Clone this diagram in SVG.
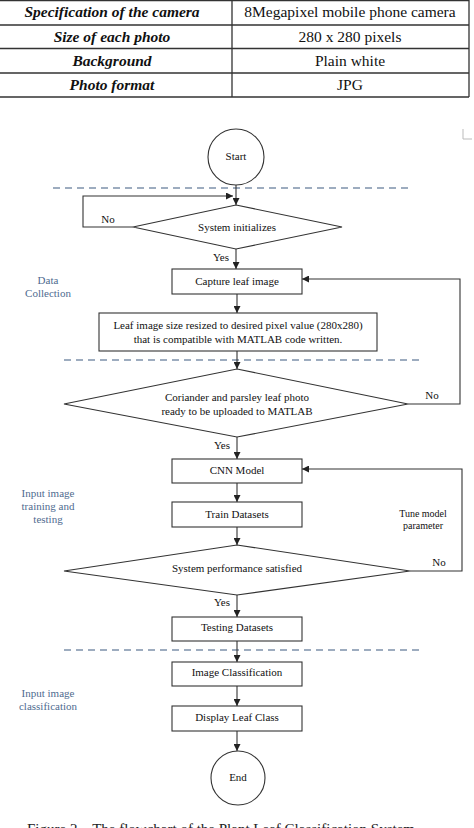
<svg xmlns="http://www.w3.org/2000/svg" width="474" height="828" viewBox="0 0 474 828">
<style>
.tl{stroke:#333;stroke-width:1.3;fill:none}
.th{font-family:"Liberation Serif",serif;font-size:15.5px;font-weight:bold;font-style:italic;fill:#111;text-anchor:middle}
.tv{font-family:"Liberation Serif",serif;font-size:15.5px;fill:#111;text-anchor:middle}
.box{fill:#fff;stroke:#333;stroke-width:1.1}
.t{font-family:"Liberation Serif",serif;font-size:11px;fill:#111;text-anchor:middle}
.ts{font-family:"Liberation Serif",serif;font-size:10px;fill:#111;text-anchor:middle}
.side{font-family:"Liberation Serif",serif;font-size:11px;fill:#4f6b8f;text-anchor:middle}
.dash{stroke:#3d5a80;stroke-width:1.2;stroke-dasharray:7 5;fill:none}
.c{stroke:#333;stroke-width:1.1;fill:none}
.ca{stroke:#333;stroke-width:1.1;fill:none;marker-end:url(#ah)}
.cap{font-family:"Liberation Serif",serif;font-size:15px;fill:#222}
</style>
<defs>
<marker id="ah" viewBox="0 0 10 10" refX="10" refY="5" markerWidth="7" markerHeight="7" orient="auto" markerUnits="userSpaceOnUse">
<path d="M0,0 L10,5 L0,10 z" fill="#222"/>
</marker>
</defs>
<rect width="474" height="828" fill="#fff"/>
<g id="table">
<path class="tl" d="M0,0.5 H469 M0,25 H469 M0,48.5 H469 M0,73 H469 M0,97 H469 M232,0 V97 M469,0 V97"/>
<text class="th" x="112" y="17">Specification of the camera</text>
<text class="tv" x="350" y="17">8Megapixel mobile phone camera</text>
<text class="th" x="112" y="42">Size of each photo</text>
<text class="tv" x="350" y="42">280 x 280 pixels</text>
<text class="th" x="112" y="66">Background</text>
<text class="tv" x="350" y="66">Plain white</text>
<text class="th" x="112" y="90">Photo format</text>
<text class="tv" x="350" y="90">JPG</text>
</g>
<path d="M463,129 V139 H472" stroke="#bbb" stroke-width="1" fill="none"/>
<g id="dividers">
<line class="dash" x1="53" y1="188" x2="409" y2="188"/>
<line class="dash" x1="64" y1="360" x2="420" y2="360"/>
<line class="dash" x1="64" y1="650" x2="420" y2="650"/>
</g>
<g id="labels">
<text class="side" x="48" y="284">Data</text>
<text class="side" x="48" y="297">Collection</text>
<text class="side" x="48" y="497">Input image</text>
<text class="side" x="48" y="510">training and</text>
<text class="side" x="48" y="523">testing</text>
<text class="side" x="48" y="697">Input image</text>
<text class="side" x="48" y="710">classification</text>
</g>
<g id="connectors">
<line class="ca" x1="236" y1="185" x2="236" y2="205"/>
<polyline class="ca" points="133,227 83,227 83,196 233,196"/>
<line class="ca" x1="236" y1="249" x2="236" y2="269"/>
<line class="ca" x1="237" y1="294" x2="237" y2="313"/>
<line class="ca" x1="237" y1="351" x2="237" y2="369"/>
<polyline class="ca" points="408,404 460,404 460,279 302,279"/>
<line class="ca" x1="237" y1="437" x2="237" y2="459"/>
<line class="ca" x1="237" y1="483" x2="237" y2="502"/>
<polyline class="ca" points="410,571 462,571 462,469 302,469"/>
<line class="ca" x1="237" y1="527" x2="237" y2="545"/>
<line class="ca" x1="237" y1="595" x2="237" y2="617"/>
<line class="ca" x1="237" y1="641" x2="237" y2="662"/>
<line class="ca" x1="237" y1="686" x2="237" y2="706"/>
<line class="ca" x1="237" y1="731" x2="237" y2="751"/>
<text class="t" x="108" y="223">No</text>
<text class="t" x="221" y="261">Yes</text>
<text class="t" x="432" y="399">No</text>
<text class="t" x="222" y="449">Yes</text>
<text class="ts" x="423" y="517">Tune model</text>
<text class="ts" x="423" y="529">parameter</text>
<text class="t" x="439" y="566">No</text>
<text class="t" x="222" y="606">Yes</text>
</g>
<g id="start">
<circle class="box" cx="236" cy="157" r="28"/>
<text class="t" x="236" y="160">Start</text>
</g>
<g id="sysinit">
<polygon class="box" points="236,205 342,227 236,249 133,227"/>
<text class="t" x="237" y="231">System initializes</text>
</g>
<g id="capture">
<rect class="box" x="172" y="269" width="130" height="25"/>
<text class="t" x="237" y="285">Capture leaf image</text>
</g>
<g id="resize">
<rect class="box" x="99" y="313" width="278" height="38"/>
<text class="t" x="238" y="329">Leaf image size resized to desired pixel value (280x280)</text>
<text class="t" x="238" y="343">that is compatible with MATLAB code written.</text>
</g>
<g id="ready">
<polygon class="box" points="237,369 408,404 237,437 64,404"/>
<text class="t" x="237" y="401">Coriander and parsley leaf photo</text>
<text class="t" x="237" y="415">ready to be uploaded to MATLAB</text>
</g>
<g id="cnn">
<rect class="box" x="172" y="459" width="130" height="24"/>
<text class="t" x="237" y="474">CNN Model</text>
</g>
<g id="train">
<rect class="box" x="172" y="502" width="130" height="25"/>
<text class="t" x="237" y="518">Train Datasets</text>
</g>
<g id="perf">
<polygon class="box" points="237,545 410,571 237,595 64,571"/>
<text class="t" x="237" y="572">System performance satisfied</text>
</g>
<g id="testing">
<rect class="box" x="172" y="617" width="130" height="24"/>
<text class="t" x="237" y="631">Testing Datasets</text>
</g>
<g id="classify">
<rect class="box" x="172" y="662" width="130" height="24"/>
<text class="t" x="237" y="676">Image Classification</text>
</g>
<g id="display">
<rect class="box" x="172" y="706" width="130" height="25"/>
<text class="t" x="237" y="721">Display Leaf Class</text>
</g>
<g id="end">
<circle class="box" cx="238" cy="778" r="27"/>
<text class="t" x="238" y="781">End</text>
</g>
<text class="cap" x="27" y="834">Figure 2 – The flowchart of the Plant Leaf Classification System</text>
</svg>
